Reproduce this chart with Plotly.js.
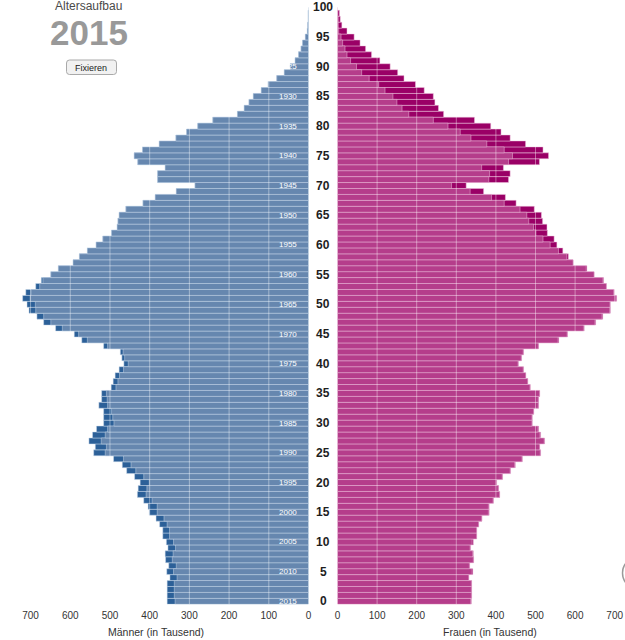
<!DOCTYPE html>
<html>
<head>
<meta charset="utf-8">
<script src="https://cdn.plot.ly/plotly-3.0.1.min.js"></script>
<style>html,body{margin:0;padding:0;background:#fff;overflow:hidden}</style>
</head>
<body>
<div id="chart" style="width:625px;height:640px"></div>
<script>
// Values by age, index 0 = age 0 ... index 99 = age 99 (in thousands)
const menOuter = [356,356,356,356,349,357,352,360,361,354,358,367,367,375,384,401,404,415,431,429,
424,438,458,469,491,541,537,553,544,534,516,516,516,528,521,521,497,492,487,477,
465,470,474,516,571,590,637,667,684,704,709,720,712,687,673,649,630,593,577,557,
535,518,496,482,480,477,460,417,386,333,286,380,380,361,430,439,418,376,334,307,
279,241,179,162,150,139,119,102,80,61,46,34,25,19,15,8,3,2,1,1];
const menInner = [336,338,338,338,331,340,333,343,341,335,340,350,350,356,364,381,381,394,409,407,
401,415,435,447,466,512,509,522,512,506,490,493,496,506,507,509,485,480,476,466,
454,463,467,506,557,579,620,649,667,687,688,701,699,677,669,649,630,593,577,557,
535,518,496,482,480,477,460,417,386,333,286,380,380,361,430,439,418,376,334,307,
279,241,179,162,150,139,119,102,80,61,46,34,25,19,15,8,3,2,1,1];
const womenOuter = [338,339,339,339,332,342,334,344,343,336,343,352,352,357,365,383,383,394,410,407,
402,417,437,449,467,513,511,523,513,508,492,492,496,508,508,511,487,481,476,470,
457,465,470,508,559,581,623,652,670,689,689,705,699,679,672,648,630,595,583,569,
554,547,530,529,518,515,497,451,424,369,325,432,436,419,510,533,519,475,436,413,
387,346,268,255,246,242,219,197,168,152,133,107,86,71,57,42,24,11,7,5];
const womenInner = [336,338,338,338,331,340,333,343,341,335,340,351,351,356,364,381,381,393,409,406,
401,416,436,447,466,512,510,522,511,506,491,491,495,507,507,510,486,480,475,469,
456,464,469,507,557,580,621,650,668,687,688,703,697,679,670,648,628,595,579,558,
537,519,501,495,483,478,461,421,389,335,288,382,384,364,432,442,421,377,337,310,
279,242,180,163,150,140,120,104,80,61,48,33,24,19,13,9,3,2,2,1];
const ageTicks = [0,5,10,15,20,25,30,35,40,45,50,55,60,65,70,75,80,85,90,95,100];
const birthYears = [2015,2010,2005,2000,1995,1990,1985,1980,1975,1970,1965,1960,1955,1950,1945,1940,1935,1930,1925];
const valueTicks = [0,100,200,300,400,500,600,700];
const ages = menOuter.map((_, i) => i);

const W = 625, H = 640;
const px = x => x / W, py = y => 1 - y / H;

const bar = (x, color, edge, ax) => ({
  type: 'bar', orientation: 'h', y: ages, x, xaxis: ax, yaxis: 'y',
  marker: {color, line: {width: 0.8, color: edge}}, hoverinfo: 'skip', showlegend: false
});
const traces = [
  bar(menOuter, '#2c6098', 'rgba(205,220,236,0.6)', 'x'),
  bar(menInner, '#6687af', 'rgba(205,220,236,0.6)', 'x'),
  bar(womenOuter, '#9a0066', 'rgba(240,200,226,0.6)', 'x2'),
  bar(womenInner, '#b53d8b', 'rgba(240,200,226,0.6)', 'x2')
];

const axisBase = {
  tickmode: 'array', tickvals: valueTicks, ticktext: valueTicks.map(String),
  showgrid: false, zeroline: false, showline: false, anchor: 'y',
  ticks: 'outside', ticklen: 2, tickcolor: 'rgba(0,0,0,0)',
  tickfont: {family: 'Liberation Sans, Arial, sans-serif', size: 10, color: '#333'}
};

const grid = (ref, edge) => valueTicks.map(v => ({
  type: 'line', xref: ref, yref: 'y', x0: v, x1: v, y0: -0.5, y1: 100, layer: 'above',
  line: {width: 1, color: v === 0 ? edge : 'rgba(255,255,255,0.4)'}
}));

const F = 'Liberation Sans, Arial, sans-serif';
const note = (text, x, y, size, color, extra) => Object.assign({
  text, x, y, xref: 'paper', yref: 'paper', showarrow: false, xanchor: 'center', yanchor: 'middle',
  font: {family: F, size, color}
}, extra || {});

const ageNotes = ageTicks.map(a => note(`<b>${a}</b>`, px(323), a, 12, '#1e1e1e', {yref: 'y'}));
const yearNotes = birthYears.map(yr => note(yr.toString(), px(298.5), 2015 - yr, 8, '#ffffff', {yref: 'y', xanchor: 'right'}));

const r = 3, bx0 = 66.5, bx1 = 116.5, by0 = 60, by1 = 74.5;
const P = (x, y) => `${px(x)},${py(y)}`;
const buttonPath = `M${P(bx0 + r, by0)} L${P(bx1 - r, by0)} Q${P(bx1, by0)} ${P(bx1, by0 + r)} L${P(bx1, by1 - r)} Q${P(bx1, by1)} ${P(bx1 - r, by1)} L${P(bx0 + r, by1)} Q${P(bx0, by1)} ${P(bx0, by1 - r)} L${P(bx0, by0 + r)} Q${P(bx0, by0)} ${P(bx0 + r, by0)} Z`;

const layout = {
  width: W, height: H, margin: {l: 0, r: 0, t: 0, b: 0, pad: 0},
  paper_bgcolor: '#fff', plot_bgcolor: '#fff',
  barmode: 'overlay', bargap: 0,
  xaxis: Object.assign({}, axisBase, {domain: [0, px(308.5)], range: [777, 0]}),
  xaxis2: Object.assign({}, axisBase, {domain: [px(337.5), 1], range: [0, 726]}),
  yaxis: {domain: [1 - 604.3 / H, 1], range: [-0.5, 101.23], visible: false, fixedrange: true, anchor: 'x'},
  shapes: [
    ...grid('x', '#c4d3e4'), ...grid('x2', '#e8bcd8'),
    {type: 'path', xref: 'paper', yref: 'paper', path: buttonPath, fillcolor: '#f1f1f1', line: {color: '#a9a9a9', width: 1}, layer: 'above'},
    {type: 'circle', xref: 'paper', yref: 'paper', x0: px(622.5), x1: px(655), y0: py(589), y1: py(557), line: {color: '#9a9a9a', width: 1.5}, layer: 'above'}
  ],
  annotations: [
    ...ageNotes, ...yearNotes,
    note('Altersaufbau', px(88), py(6), 12, '#4a4a4a'),
    note('<b>2015</b>', px(88.5), py(32), 35, '#999999'),
    note('Fixieren', px(91), py(67.5), 9, '#222'),
    note('Männer (in Tausend)', px(156), py(631.5), 10.5, '#333'),
    note('Frauen (in Tausend)', px(490), py(631.5), 10.5, '#333')
  ]
};
Plotly.newPlot('chart', traces, layout, {displayModeBar: false, staticPlot: true});
</script>
</body>
</html>
